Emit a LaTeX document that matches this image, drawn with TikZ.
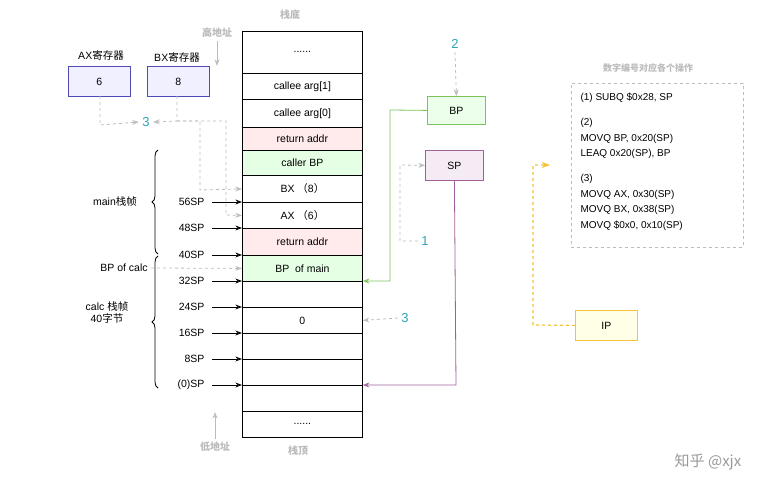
\documentclass[tikz,border=0pt]{standalone}
\usepackage{fontspec}
\setmainfont{Liberation Sans}
\newfontfamily\cjk{Noto Sans CJK SC}
\usetikzlibrary{arrows.meta,decorations.pathreplacing}
\definecolor{teal1}{HTML}{2AA3B8}
\definecolor{gr}{HTML}{BBBBBB}
\definecolor{gline}{HTML}{7BC45A}
\definecolor{pline}{HTML}{A0609A}
\definecolor{yline}{HTML}{F2C33C}
\begin{document}
\begin{tikzpicture}[x=1pt,y=-1pt,font=\fontsize{10.5}{12}\selectfont,
 cell/.style={draw=black,thick,minimum width=120pt,inner sep=0pt,anchor=north west},
 red/.style={fill=red!8,draw=black},
 grn/.style={fill=green!10,draw=black},
 reg/.style={draw=#1,thick,minimum width=62pt,minimum height=30pt,anchor=north west,inner sep=0pt},
 gdash/.style={draw=gr,thick,dashed,-{Stealth[open]}},
 num/.style={text=teal1,font=\fontsize{13}{13}\selectfont},
 spl/.style={anchor=east},
 spa/.style={-{Stealth[open]},thick},
 graytxt/.style={text=gr,font=\cjk\bfseries\fontsize{10}{11}\selectfont}]
\useasboundingbox (0,0) rectangle (781,497);
% stack
\node[cell,minimum height=42pt] (c0) at (242,31) {......};
\node[cell,minimum height=26pt] (c1) at (242,73) {callee arg[1]};
\node[cell,minimum height=28pt] (c2) at (242,99) {callee arg[0]};
\node[cell,red,minimum height=23pt] (c3) at (242,127) {return addr};
\node[cell,grn,minimum height=25pt] (c4) at (242,150) {caller BP};
\node[cell,minimum height=27pt] (c5) at (242,175) {BX {\cjk（}8{\cjk）}};
\node[cell,minimum height=26pt] (c6) at (242,202) {AX {\cjk（}6{\cjk）}};
\node[cell,red,minimum height=27pt] (c7) at (242,228) {return addr};
\node[cell,grn,minimum height=26pt] (c8) at (242,255) {BP\ \ of main};
\node[cell,minimum height=26pt] (c9) at (242,281) {};
\node[cell,minimum height=26pt] (c10) at (242,307) {0};
\node[cell,minimum height=26pt] (c11) at (242,333) {};
\node[cell,minimum height=26pt] (c12) at (242,359) {};
\node[cell,minimum height=26pt] (c13) at (242,385) {};
\node[cell,minimum height=26pt] (c14) at (242,411) {......};
\node[graytxt] (bot) at (290,15) {栈底};
\node[graytxt] (top) at (298,451) {栈顶};
\node[graytxt] (hi) at (217,33) {高地址};
\node[graytxt] (lo) at (215,447) {低地址};
\draw[gr,thick,-{Stealth[open]}] (hi.south) -- (217,66);
\draw[gr,thick,-{Stealth[open]}] (lo.north) -- (215,412);
% SP labels
\foreach \n/\y/\c in {56SP/202/c6,48SP/228/c7,40SP/255/c8,32SP/281/c9,24SP/307/c10,16SP/333/c11,8SP/359/c12,(0)SP/385/c13}{
  \node[spl] (l\y) at (208,\y) {\n};
  \draw[spa] (l\y.east) ++(4,0) -- (\c.north west);
}
\node (bpc) at (124,268) {BP of calc};
\draw[gdash] (bpc.east) -- (c8.west);
\draw[thick,decorate,decoration={brace,amplitude=6pt}] (158,254) -- (158,150);
\draw[thick,decorate,decoration={brace,amplitude=6pt}] (158,388) -- (158,256);
\node (mf) at (115,202) {main{\cjk 栈帧}};
\node[align=center] (cf) at (107,313) {calc {\cjk 栈帧}\\40{\cjk 字节}};
% registers
\node[reg=blue!40!gray,fill=blue!6] (ax) at (68,66) {6};
\node[reg=blue!40!gray,fill=blue!6] (bx) at (147,66) {8};
\node (axl) at (101,55) {AX{\cjk 寄存器}};
\node (bxl) at (177,57) {BX{\cjk 寄存器}};
\node[num] (n3a) at (146,122) {3};
\draw[gdash] (100,96) -- (100,125) -- (n3a.west);
\draw[gdash] (177,96) -- (177,121) -- (n3a.east);
\draw[gdash] (177,121) -- (200,121) -- (200,190) -- (c5.west);
\draw[gdash] (177,121) -- (226,121) -- (226,215) -- (c6.west);
% right
\node[reg=gline,fill=green!8,minimum width=58pt,minimum height=28pt] (bp) at (427,96) {BP};
\node[reg=pline,fill=violet!8,minimum width=58pt] (sp) at (425,150) {SP};
\node[num] (n2) at (455,44) {2};
\draw[gdash] (n2.south) -- (bp.north);
\draw[gline,thick,-{Stealth[open]}] (bp.west) -- (390,110) -- (390,281) -- (c9.north east);
\draw[pline,thick,-{Stealth[open]}] (sp.south) -- (456,385) -- (c13.north east);
\node[num] (n1) at (425,241) {1};
\draw[gdash] (n1.west) -- (400,241) -- (400,165) -- (sp.west);
\node[num] (n3b) at (405,318) {3};
\draw[gdash] (n3b.west) -- (c10.east);
\node[reg=yline,fill=yellow!10] (ip) at (575,310) {IP};
\draw[yline,very thick,dashed,-{Stealth[open]}] (ip.west) -- (533,325) -- (533,165) -- (550,165);
% code box
\node[draw=gr,thick,dashed,minimum width=172pt,minimum height=164pt,anchor=north west] (box) at (571,83) {};
\node[text=gr,font=\cjk\bfseries\itshape\fontsize{9}{10}\selectfont] (ttl) at (648,68) {数字编号对应各个操作};
\node[anchor=north west,align=left,font=\fontsize{10}{15.5}\selectfont] (code) at (577,90) {(1) SUBQ \$0x28, SP\\[-3pt] \\[-3pt](2)\\MOVQ BP, 0x20(SP)\\LEAQ 0x20(SP), BP\\[-3pt] \\[-3pt](3)\\MOVQ AX, 0x30(SP)\\MOVQ BX, 0x38(SP)\\MOVQ \$0x0, 0x10(SP)};
\node[text=gray!80,font=\cjk\fontsize{15}{15}\selectfont] (wm) at (708,462) {知乎 @xjx};
\end{tikzpicture}
\end{document}
